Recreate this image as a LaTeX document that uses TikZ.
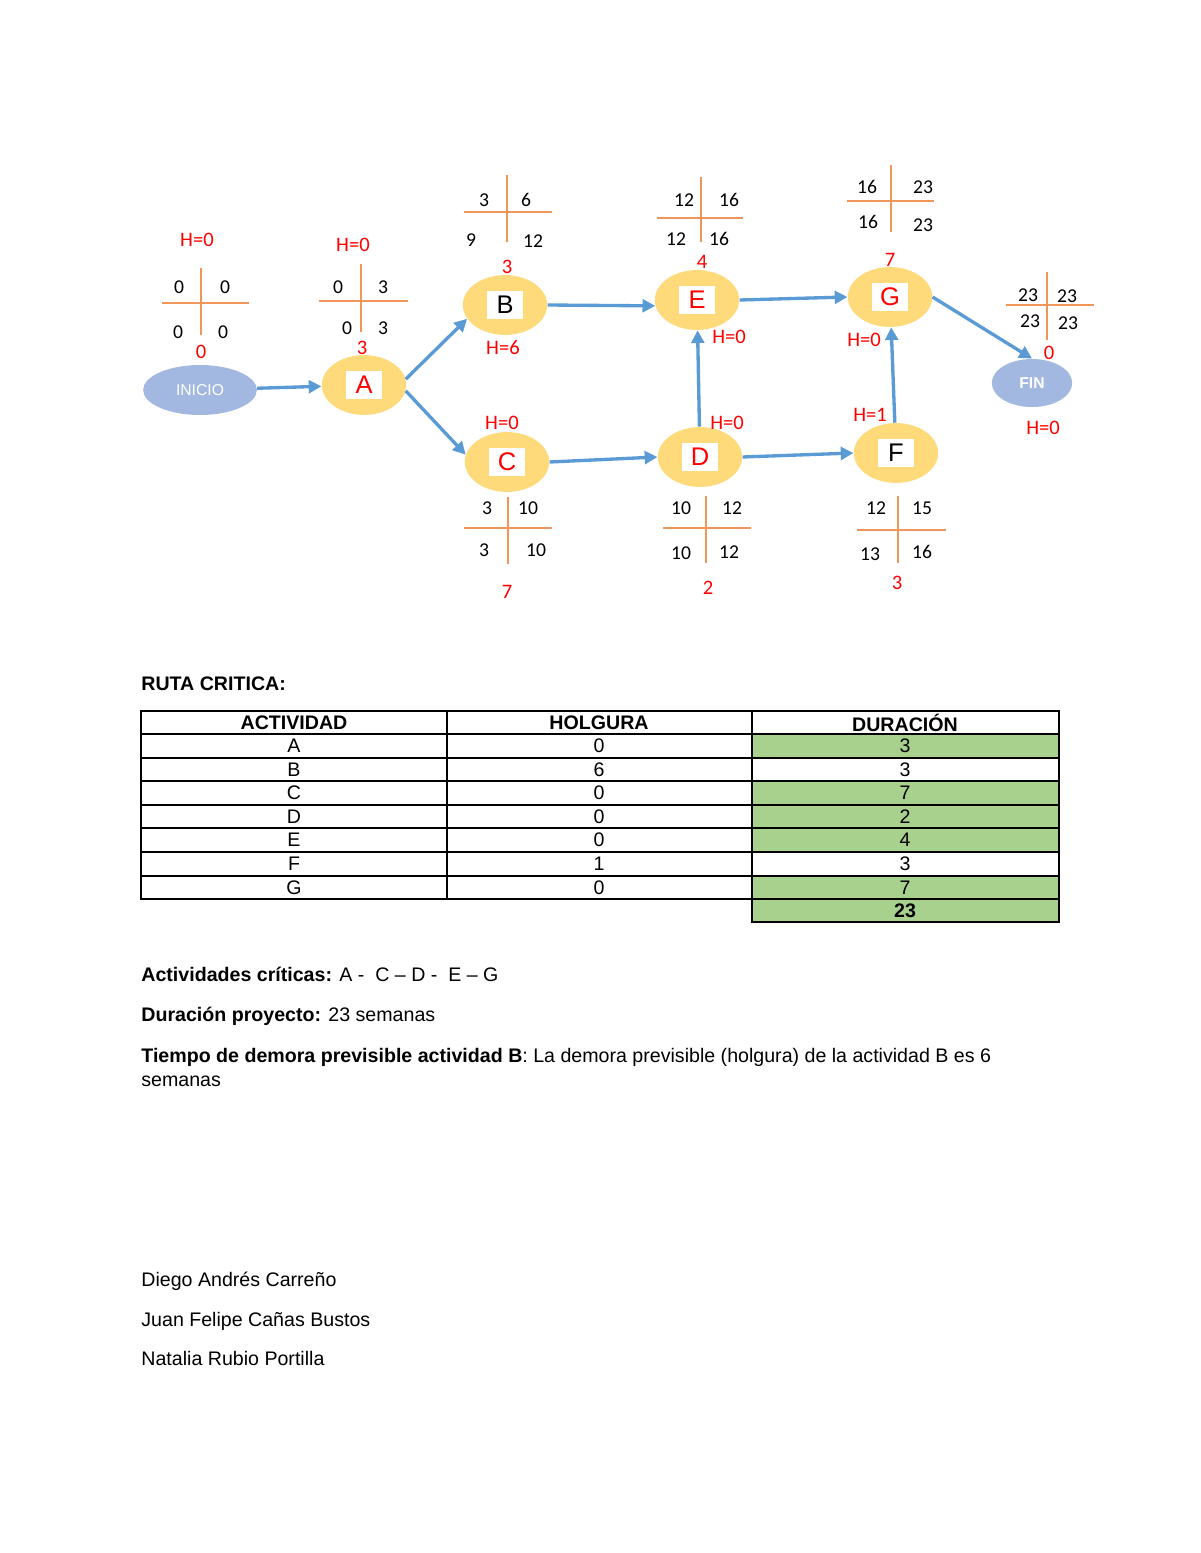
\documentclass[tikz,border=0pt]{standalone}
\usepackage{fontspec}
\setmainfont{Liberation Sans}
\newfontfamily\cali{Carlito}
\usepackage{xcolor}
\usepackage{tikz}
\usetikzlibrary{positioning, arrows.meta, shapes.geometric}

\definecolor{amarillo}{RGB}{255,218,122}
\definecolor{azulnodo}{RGB}{162,184,225}
\definecolor{azulflecha}{RGB}{91,155,213}
\definecolor{naranja}{RGB}{241,150,90}
\definecolor{verde}{RGB}{169,209,142}

\begin{document}
\begin{tikzpicture}[x=0.51pt,y=0.51pt,yscale=-1,xscale=1,
  actividad/.style={ellipse, fill=amarillo, minimum width=43pt, minimum height=30.5pt, inner sep=0pt},
  extremo/.style={ellipse, fill=azulnodo, text=white, inner sep=0pt, font=\fontsize{8}{9}\selectfont},
  caja/.style={fill=white, minimum width=18.5pt, minimum height=14.5pt, inner sep=0pt, font=\fontsize{13}{13}\selectfont},
  flecha/.style={draw=azulflecha, line width=1.7pt, -{Triangle[length=6.5pt,width=6.5pt]}},
  cruz/.style={draw=naranja, line width=0.6pt},
  num/.style={inner sep=0pt, font=\cali\fontsize{10}{12}\selectfont},
  rojo/.style={inner sep=0pt, text=red, font=\cali\fontsize{10.5}{12}\selectfont},
  celda/.style={inner sep=0pt, font=\fontsize{10}{12}\selectfont},
  texto/.style={anchor=base west, inner sep=0pt, font=\fontsize{10}{12}\selectfont},
  tabla/.style={draw=black, line width=1.2pt}]
%page
\fill[white] (0,0) rectangle (1200,1553);

% Nodes
\node[extremo, minimum width=58pt, minimum height=25.5pt] (inicio) at (200,390) {INICIO};
\node[actividad] (A) at (364,385) {};
\node[caja, text=red] (cajaA) at (A) {A};
\node[actividad] (B) at (505,305) {};
\node[caja] (cajaB) at (B) {B};
\node[actividad] (C) at (507,462) {};
\node[caja, text=red] (cajaC) at (C) {C};
\node[actividad] (D) at (700,457) {};
\node[caja, text=red] (cajaD) at (D) {D};
\node[actividad] (E) at (697,300) {};
\node[caja, text=red] (cajaE) at (E) {E};
\node[actividad] (G) at (890,297) {};
\node[caja, text=red] (cajaG) at (G) {G};
\node[actividad] (F) at (896,453) {};
\node[caja] (cajaF) at (F) {F};
\node[extremo, minimum width=41pt, minimum height=24.5pt, font=\fontsize{8}{9}\selectfont\bfseries] (fin) at (1032,383) {FIN};

% Arrows
\draw[flecha] (inicio) -- (A);
\draw[flecha] (A.8) -- (B.200);
\draw[flecha] (A.-8) -- (C.170);
\draw[flecha] (B.east) -- (E.188);
\draw[flecha] (C.east) -- (D.west);
\draw[flecha] (D) -- (E);
\draw[flecha] (D.east) -- (F.west);
\draw[flecha] (E.east) -- (G.west);
\draw[flecha] (F) -- (G);
\draw[flecha] (G.east) -- (fin.north);

% Cross INICIO
\draw[cruz] (162,303) -- (249,303);
\draw[cruz] (201,268) -- (201,335);
\node[num] (in-ei) at (179,287) {0};
\node[num] (in-ef) at (225,287) {0};
\node[num] (in-li) at (178,332) {0};
\node[num] (in-lf) at (223,332) {0};
\node[rojo] (in-dur) at (201,352) {0};
\node[rojo] (in-h) at (197,240) {H=0};

% Cross A
\draw[cruz] (319,301) -- (408,301);
\draw[cruz] (361,264) -- (361,332);
\node[num] (A-ei) at (338,287) {0};
\node[num] (A-ef) at (383,287) {3};
\node[num] (A-li) at (347,328) {0};
\node[num] (A-lf) at (383,328) {3};
\node[rojo] (A-dur) at (362,348) {3};
\node[rojo] (A-h) at (353,245) {H=0};

% Cross B
\draw[cruz] (464,212) -- (552,212);
\draw[cruz] (507,175) -- (507,242);
\node[num] (B-ei) at (484,200) {3};
\node[num] (B-ef) at (526,200) {6};
\node[num] (B-li) at (471,240) {9};
\node[num] (B-lf) at (533,241) {12};
\node[rojo] (B-dur) at (507,267) {3};
\node[rojo] (B-h) at (503,348) {H=6};

% Cross E
\draw[cruz] (657,218) -- (743,218);
\draw[cruz] (701,177) -- (701,242);
\node[num] (E-ei) at (684,200) {12};
\node[num] (E-ef) at (729,200) {16};
\node[num] (E-li) at (676,239) {12};
\node[num] (E-lf) at (719,239) {16};
\node[rojo] (E-dur) at (702,262) {4};
\node[rojo] (E-h) at (729,337) {H=0};

% Cross G
\draw[cruz] (847,201) -- (934,201);
\draw[cruz] (891,165) -- (891,232);
\node[num] (G-ei) at (867,187) {16};
\node[num] (G-ef) at (923,187) {23};
\node[num] (G-li) at (868,222) {16};
\node[num] (G-lf) at (923,225) {23};
\node[rojo] (G-dur) at (890,260) {7};
\node[rojo] (G-h) at (864,340) {H=0};

% Cross FIN
\draw[cruz] (1006,305) -- (1094,305);
\draw[cruz] (1047,272) -- (1047,340);
\node[num] (fin-ei) at (1028,295) {23};
\node[num] (fin-ef) at (1067,296) {23};
\node[num] (fin-li) at (1030,321) {23};
\node[num] (fin-lf) at (1068,323) {23};
\node[rojo] (fin-dur) at (1049,353) {0};
\node[rojo] (fin-h) at (1043,428) {H=0};

% Cross C
\draw[cruz] (464,528) -- (552,528);
\draw[cruz] (508,497) -- (508,564);
\node[num] (C-ei) at (487,508) {3};
\node[num] (C-ef) at (528,508) {10};
\node[num] (C-li) at (484,550) {3};
\node[num] (C-lf) at (536,550) {10};
\node[rojo] (C-dur) at (507,592) {7};
\node[rojo] (C-h) at (502,423) {H=0};

% Cross D
\draw[cruz] (663,528) -- (751,528);
\draw[cruz] (706,496) -- (706,563);
\node[num] (D-ei) at (681,508) {10};
\node[num] (D-ef) at (732,508) {12};
\node[num] (D-li) at (681,553) {10};
\node[num] (D-lf) at (729,552) {12};
\node[rojo] (D-dur) at (708,588) {2};
\node[rojo] (D-h) at (727,423) {H=0};

% Cross F
\draw[cruz] (857,530) -- (946,530);
\draw[cruz] (898,496) -- (898,563);
\node[num] (F-ei) at (876,508) {12};
\node[num] (F-ef) at (922,508) {15};
\node[num] (F-li) at (870,554) {13};
\node[num] (F-lf) at (922,552) {16};
\node[rojo] (F-dur) at (897,583) {3};
\node[rojo] (F-h) at (870,415) {H=1};

% Text
\node[texto, font=\fontsize{10}{12}\selectfont\bfseries] (titulo) at (141,690) {RUTA CRITICA:};

% Table
\fill[verde] (752,734) rectangle (1059,758);
\fill[verde] (752,781) rectangle (1059,852);
\fill[verde] (752,876) rectangle (1059,922);
\draw[tabla] (141,711) rectangle (1059,899);
\draw[tabla] (141,734) -- (1059,734);
\draw[tabla] (141,758) -- (1059,758);
\draw[tabla] (141,781) -- (1059,781);
\draw[tabla] (141,805) -- (1059,805);
\draw[tabla] (141,828) -- (1059,828);
\draw[tabla] (141,852) -- (1059,852);
\draw[tabla] (141,876) -- (1059,876);
\draw[tabla] (447,711) -- (447,899);
\draw[tabla] (752,711) -- (752,899);
\draw[tabla] (752,899) rectangle (1059,922);

\node[celda, font=\fontsize{10}{12}\selectfont\bfseries] (t-act) at (294,722.5) {ACTIVIDAD};
\node[celda, font=\fontsize{10}{12}\selectfont\bfseries] (t-hol) at (599,722.5) {HOLGURA};
\node[celda, font=\fontsize{10}{12}\selectfont\bfseries] (t-dur) at (905,722.5) {DURACIÓN};
\node[celda] (t-A) at (294,746) {A};
\node[celda] (t-hA) at (599,746) {0};
\node[celda] (t-dA) at (905,746) {3};
\node[celda] (t-B) at (294,769.5) {B};
\node[celda] (t-hB) at (599,769.5) {6};
\node[celda] (t-dB) at (905,769.5) {3};
\node[celda] (t-C) at (294,793) {C};
\node[celda] (t-hC) at (599,793) {0};
\node[celda] (t-dC) at (905,793) {7};
\node[celda] (t-D) at (294,816.5) {D};
\node[celda] (t-hD) at (599,816.5) {0};
\node[celda] (t-dD) at (905,816.5) {2};
\node[celda] (t-E) at (294,840) {E};
\node[celda] (t-hE) at (599,840) {0};
\node[celda] (t-dE) at (905,840) {4};
\node[celda] (t-F) at (294,864) {F};
\node[celda] (t-hF) at (599,864) {1};
\node[celda] (t-dF) at (905,864) {3};
\node[celda] (t-G) at (294,887.5) {G};
\node[celda] (t-hG) at (599,887.5) {0};
\node[celda] (t-dG) at (905,887.5) {7};
\node[celda, font=\fontsize{10}{12}\selectfont\bfseries] (t-total) at (905,910.5) {23};

% Conclusions
\node[texto] (criticas) at (141,981) {\textbf{Actividades críticas:} A -\ \ C – D -\ \ E – G};
\node[texto] (duracion) at (141,1021) {\textbf{Duración proyecto:} 23 semanas};
\node[texto] (demora) at (141,1062) {\textbf{Tiempo de demora previsible actividad B}: La demora previsible (holgura) de la actividad B es 6};
\node[texto] (demora2) at (141,1086) {semanas};

% Authors
\node[texto] (autor1) at (141,1286) {Diego Andrés Carreño};
\node[texto] (autor2) at (141,1326) {Juan Felipe Cañas Bustos};
\node[texto] (autor3) at (141,1365) {Natalia Rubio Portilla};

\end{tikzpicture}
\end{document}
